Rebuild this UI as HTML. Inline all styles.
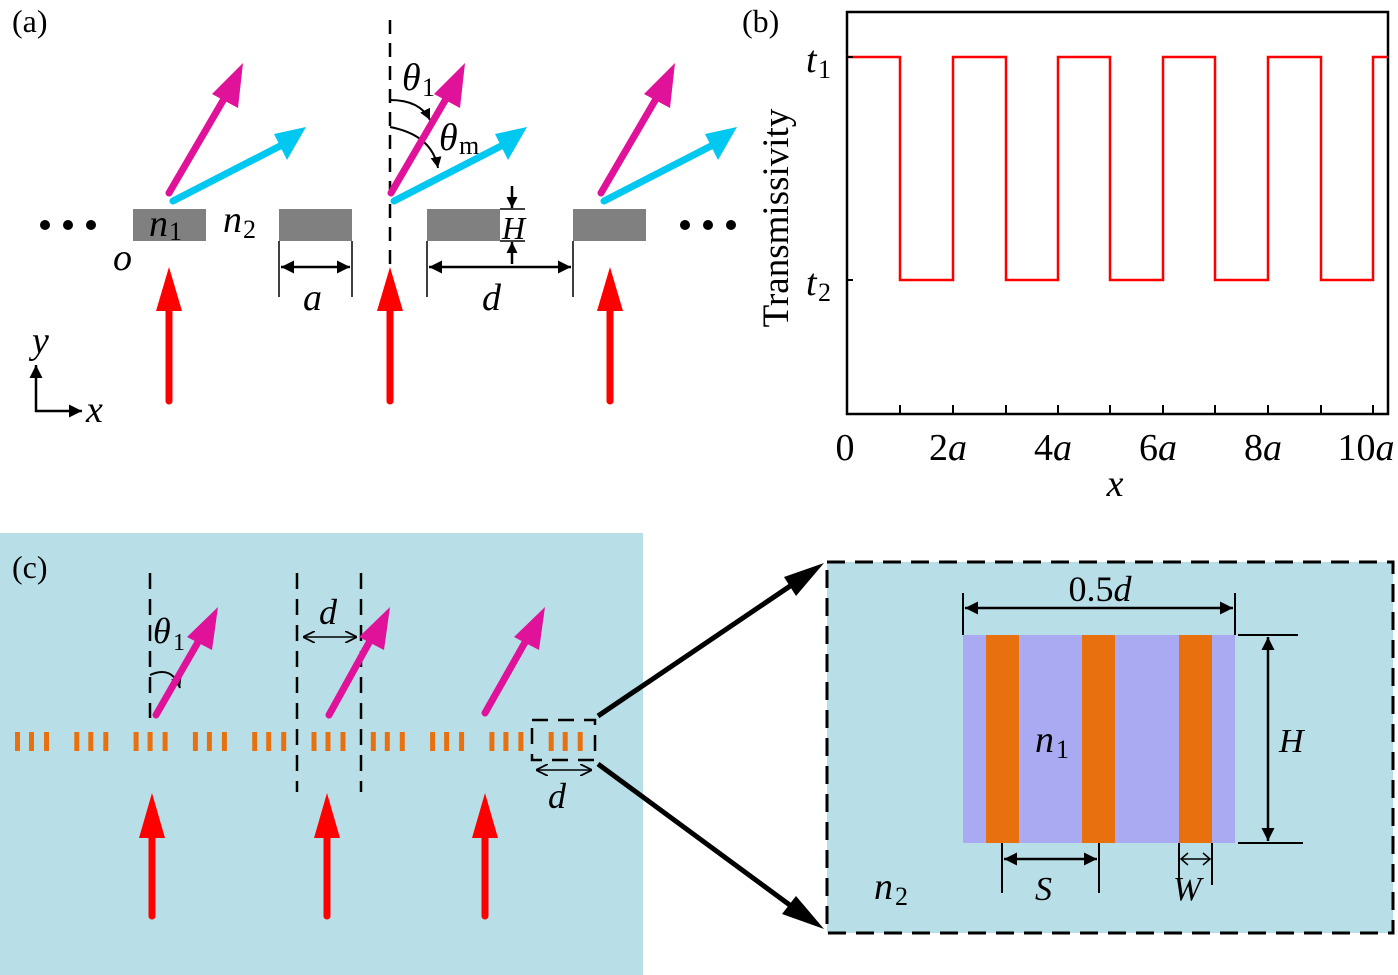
<!DOCTYPE html>
<html><head><meta charset="utf-8"><style>
html,body{margin:0;padding:0;background:#fff;}
svg{display:block;}
text{font-family:"Liberation Serif",serif;fill:#000;}
</style></head><body>
<svg width="1398" height="975" viewBox="0 0 1398 975" xmlns="http://www.w3.org/2000/svg">
<defs>
<marker id="bk" viewBox="0 0 10 10" refX="10" refY="5" markerWidth="16" markerHeight="13" orient="auto-start-reverse" markerUnits="userSpaceOnUse"><path d="M0,0 L10,5 L0,10 z" fill="#000"/></marker>
<marker id="sm" viewBox="0 0 10 10" refX="10" refY="5" markerWidth="11" markerHeight="11" orient="auto-start-reverse" markerUnits="userSpaceOnUse"><path d="M0,0 L10,5 L0,10 z" fill="#000"/></marker>
<marker id="op" viewBox="0 0 10 10" refX="10" refY="5" markerWidth="12" markerHeight="12" orient="auto-start-reverse" markerUnits="userSpaceOnUse"><path d="M0,0 L10,5 L0,10" fill="none" stroke="#000" stroke-width="1.5"/></marker>
</defs>
<!-- Panel a -->
<text x="12" y="32" font-size="32">(a)</text>
<g fill="#000"><circle cx="45" cy="225" r="5"/><circle cx="68" cy="225" r="5"/><circle cx="91" cy="225" r="5"/>
<circle cx="685" cy="225" r="5"/><circle cx="708" cy="225" r="5"/><circle cx="731" cy="225" r="5"/></g>
<g fill="#808080"><rect x="133" y="209" width="73" height="32"/><rect x="279" y="209" width="73" height="32"/><rect x="427" y="209" width="73" height="32"/><rect x="573" y="209" width="73" height="32"/></g>
<line x1="390" y1="20" x2="390" y2="282" stroke="#000" stroke-width="2.5" stroke-dasharray="14,9"/>
<text x="149" y="236" font-size="38" font-style="italic">n</text><text x="169" y="240" font-size="26">1</text>
<text x="223" y="232" font-size="38" font-style="italic">n</text><text x="243" y="238" font-size="26">2</text>
<text x="113" y="270" font-size="38" font-style="italic">o</text>
<!-- dims a -->
<g stroke="#000" stroke-width="1.5"><line x1="279" y1="241" x2="279" y2="297"/><line x1="352" y1="241" x2="352" y2="297"/>
<line x1="427" y1="241" x2="427" y2="297"/><line x1="573" y1="241" x2="573" y2="297"/>
<line x1="500" y1="209" x2="525" y2="209"/><line x1="500" y1="241" x2="525" y2="241"/></g>
<g stroke="#000" stroke-width="2.5"><line x1="281" y1="267" x2="350" y2="267" marker-start="url(#bk)" marker-end="url(#bk)"/>
<line x1="429" y1="267" x2="571" y2="267" marker-start="url(#bk)" marker-end="url(#bk)"/>
<line x1="512" y1="186" x2="512" y2="208" marker-end="url(#sm)"/><line x1="512" y1="264" x2="512" y2="242" marker-end="url(#sm)"/></g>
<text x="303" y="310" font-size="38" font-style="italic">a</text>
<text x="482" y="310" font-size="38" font-style="italic">d</text>
<text x="502" y="239" font-size="32" font-style="italic">H</text>
<!-- angles -->
<path d="M390,100 Q420,100 430,120" fill="none" stroke="#000" stroke-width="2" marker-end="url(#sm)"/>
<path d="M390,127 Q432,135 438,168" fill="none" stroke="#000" stroke-width="2" marker-end="url(#sm)"/>
<text x="402" y="90" font-size="38" font-style="italic">θ</text><text x="422" y="96" font-size="26">1</text>
<text x="439" y="150" font-size="38" font-style="italic">θ</text><text x="459" y="154" font-size="26">m</text>
<!-- arrows a -->
<g stroke-linecap="round">
<g stroke="#e0129a" stroke-width="7"><line x1="169" y1="193" x2="228" y2="92"/><line x1="391" y1="193" x2="450" y2="92"/><line x1="601" y1="193" x2="660" y2="92"/></g>
<g stroke="#00c8f0" stroke-width="7"><line x1="173" y1="201" x2="282" y2="145"/><line x1="394" y1="201" x2="503" y2="145"/><line x1="604" y1="201" x2="713" y2="145"/></g>
<g stroke="#ff0000" stroke-width="7"><line x1="169" y1="401" x2="169" y2="300"/><line x1="390" y1="401" x2="390" y2="300"/><line x1="610" y1="401" x2="610" y2="300"/></g>
</g>
<g fill="#e0129a"><path d="M243,63 L238,108 L212,94z"/><path d="M465,63 L460,108 L434,94z"/><path d="M675,63 L670,108 L644,94z"/></g>
<g fill="#00c8f0"><path d="M306,127 L287,160 L274,134z"/><path d="M527,127 L508,160 L495,134z"/><path d="M737,127 L718,160 L705,134z"/></g>
<g fill="#ff0000"><path d="M169,267 L156,311 L182,311z"/><path d="M390,267 L377,311 L403,311z"/><path d="M610,267 L597,311 L623,311z"/></g>
<!-- axes -->
<g stroke="#000" stroke-width="2.5"><line x1="36" y1="412" x2="36" y2="365" marker-end="url(#bk)"/><line x1="35" y1="411" x2="82" y2="411" marker-end="url(#bk)"/></g>
<text x="32" y="353" font-size="38" font-style="italic">y</text>
<text x="86" y="422" font-size="38" font-style="italic">x</text>
<!-- Panel b -->
<text x="742" y="32" font-size="32">(b)</text>
<rect x="847" y="12" width="541" height="402" fill="none" stroke="#000" stroke-width="2.5"/>
<polyline fill="none" stroke="#ff0000" stroke-width="2.5" points="847,57 900,57 900,280 953,280 953,57 1006,57 1006,280 1058,280 1058,57 1110,57 1110,280 1163,280 1163,57 1215,57 1215,280 1268,280 1268,57 1321,57 1321,280 1373,280 1373,57 1388,57"/>
<g stroke="#000" stroke-width="2"><line x1="900" y1="414" x2="900" y2="405"/><line x1="953" y1="414" x2="953" y2="405"/><line x1="1006" y1="414" x2="1006" y2="405"/><line x1="1058" y1="414" x2="1058" y2="405"/><line x1="1110" y1="414" x2="1110" y2="405"/><line x1="1163" y1="414" x2="1163" y2="405"/><line x1="1215" y1="414" x2="1215" y2="405"/><line x1="1268" y1="414" x2="1268" y2="405"/><line x1="1321" y1="414" x2="1321" y2="405"/><line x1="1373" y1="414" x2="1373" y2="405"/>
<line x1="847" y1="57" x2="853" y2="57"/><line x1="847" y1="280" x2="853" y2="280"/></g>
<g font-size="38" text-anchor="middle"><text x="845" y="460">0</text><text x="948" y="460">2<tspan font-style="italic">a</tspan></text><text x="1053" y="460">4<tspan font-style="italic">a</tspan></text><text x="1158" y="460">6<tspan font-style="italic">a</tspan></text><text x="1263" y="460">8<tspan font-style="italic">a</tspan></text><text x="1366" y="460">10<tspan font-style="italic">a</tspan></text></g>
<text x="1115" y="496" font-size="38" font-style="italic" text-anchor="middle">x</text>
<text x="806" y="72" font-size="38" font-style="italic">t</text><text x="818" y="78" font-size="26">1</text>
<text x="806" y="295" font-size="38" font-style="italic">t</text><text x="818" y="301" font-size="26">2</text>
<text transform="translate(788,218) rotate(-90)" font-size="37" text-anchor="middle">Transmissivity</text>
<!-- Panel c -->
<rect x="0" y="533" width="643" height="442" fill="#b8dfe8"/>
<text x="12" y="578" font-size="32">(c)</text>
<g fill="#e8700e">
<g id="grp"><rect x="15" y="732" width="5" height="19"/><rect x="29" y="732" width="5" height="19"/><rect x="44" y="732" width="5" height="19"/></g>
<use href="#grp" x="59.3"/><use href="#grp" x="118.6"/><use href="#grp" x="177.9"/><use href="#grp" x="237.2"/><use href="#grp" x="296.5"/><use href="#grp" x="355.8"/><use href="#grp" x="415.1"/><use href="#grp" x="474.4"/><use href="#grp" x="533.7"/>
</g>
<g stroke="#000" stroke-width="2.5" stroke-dasharray="16,10" fill="none">
<line x1="150" y1="573" x2="150" y2="718"/><line x1="297" y1="573" x2="297" y2="792"/><line x1="361" y1="573" x2="361" y2="792"/>
<rect x="532" y="720" width="63" height="40"/>
</g>
<path d="M150,675 Q172,665 180,688" fill="none" stroke="#000" stroke-width="2" marker-end="url(#sm)"/>
<text x="153" y="643" font-size="36" font-style="italic">θ</text><text x="173" y="650" font-size="24">1</text>
<g stroke="#000" stroke-width="1.5"><line x1="303" y1="637" x2="357" y2="637" marker-start="url(#op)" marker-end="url(#op)"/>
<line x1="536" y1="770" x2="592" y2="770" marker-start="url(#op)" marker-end="url(#op)"/></g>
<text x="319" y="624" font-size="36" font-style="italic">d</text>
<text x="548" y="808" font-size="36" font-style="italic">d</text>
<g stroke-linecap="round">
<g stroke="#e0129a" stroke-width="7"><line x1="156" y1="715" x2="205" y2="630"/><line x1="329" y1="715" x2="376" y2="630"/><line x1="485" y1="713" x2="532" y2="630"/></g>
<g stroke="#ff0000" stroke-width="7"><line x1="152" y1="916" x2="152" y2="830"/><line x1="327" y1="916" x2="327" y2="830"/><line x1="485" y1="916" x2="485" y2="830"/></g>
</g>
<g fill="#e0129a"><path d="M218,607 L212,650 L187,637z"/><path d="M390,607 L384,650 L359,637z"/><path d="M545,607 L539,650 L514,637z"/></g>
<g fill="#ff0000"><path d="M152,793 L139,838 L165,838z"/><path d="M327,793 L314,838 L340,838z"/><path d="M485,793 L472,838 L498,838z"/></g>
<!-- big arrows -->
<g stroke="#000" stroke-width="5"><line x1="598" y1="716" x2="802" y2="578"/><line x1="598" y1="764" x2="802" y2="914"/></g>
<path d="M824,563 L796,596 L784,577z" fill="#000"/>
<path d="M824,929 L782,914 L796,896z" fill="#000"/>
<!-- zoom box -->
<rect x="827" y="562" width="566" height="371" fill="#b8dfe8" stroke="#000" stroke-width="3" stroke-dasharray="18,10"/>
<rect x="963" y="635" width="272" height="208" fill="#aaaaf2"/>
<g fill="#e8700e"><rect x="986" y="635" width="33" height="208"/><rect x="1082" y="635" width="33" height="208"/><rect x="1179" y="635" width="33" height="208"/></g>
<g stroke="#000" stroke-width="2">
<line x1="963" y1="593" x2="963" y2="635"/><line x1="1235" y1="593" x2="1235" y2="635"/>
<line x1="1238" y1="635" x2="1298" y2="635"/><line x1="1238" y1="843" x2="1303" y2="843"/>
<line x1="1002" y1="843" x2="1002" y2="893"/><line x1="1099" y1="843" x2="1099" y2="893"/>
<line x1="1179" y1="843" x2="1179" y2="885"/><line x1="1212" y1="843" x2="1212" y2="885"/>
</g>
<g stroke="#000" stroke-width="2.5">
<line x1="965" y1="608" x2="1233" y2="608" marker-start="url(#bk)" marker-end="url(#bk)"/>
<line x1="1268" y1="637" x2="1268" y2="841" marker-start="url(#bk)" marker-end="url(#bk)"/>
<line x1="1004" y1="859" x2="1097" y2="859" marker-start="url(#bk)" marker-end="url(#bk)"/>
</g>
<line x1="1181" y1="859" x2="1210" y2="859" stroke="#000" stroke-width="1.5"/>
<path d="M1188,853 L1181,859 L1188,865 M1203,853 L1210,859 L1203,865" fill="none" stroke="#000" stroke-width="1.5"/>
<text x="1100" y="601" font-size="36" text-anchor="middle">0.5<tspan font-style="italic">d</tspan></text>
<text x="1035" y="752" font-size="38" font-style="italic">n</text><text x="1056" y="758" font-size="26">1</text>
<text x="874" y="899" font-size="38" font-style="italic">n</text><text x="895" y="905" font-size="26">2</text>
<text x="1279" y="752" font-size="34" font-style="italic">H</text>
<text x="1035" y="900" font-size="34" font-style="italic">S</text>
<text x="1173" y="900" font-size="34" font-style="italic">W</text>
</svg>
</body></html>
